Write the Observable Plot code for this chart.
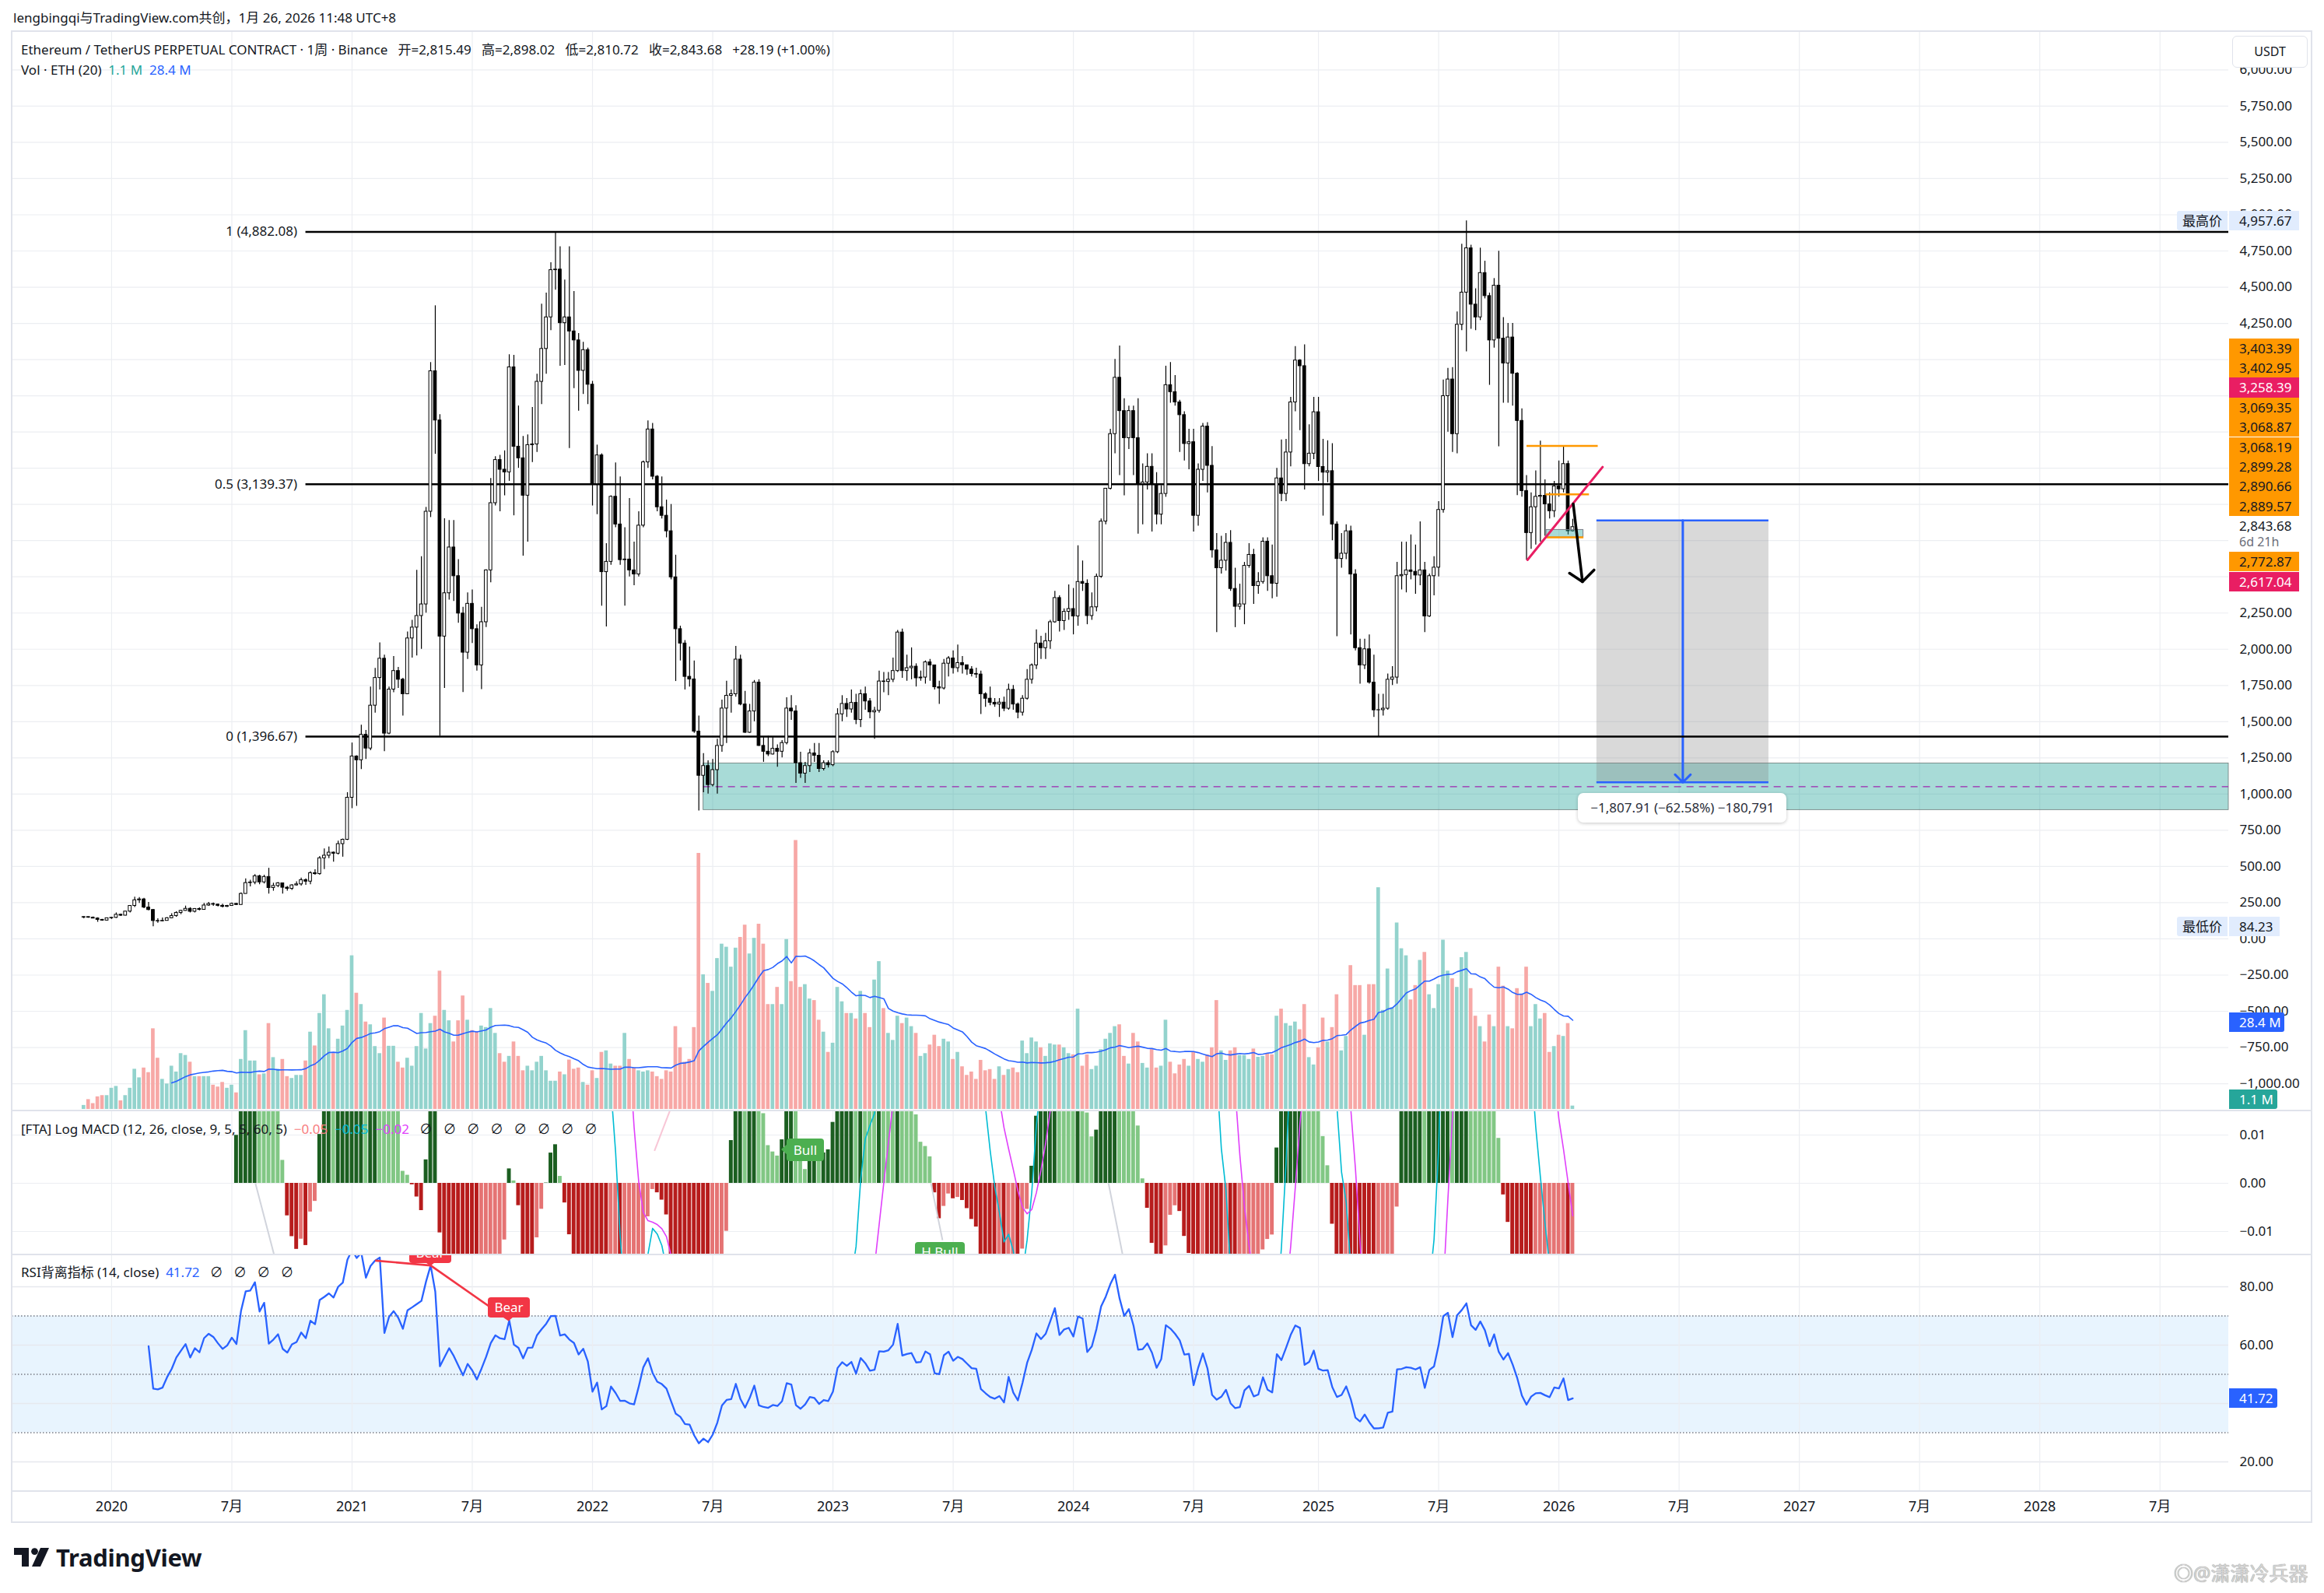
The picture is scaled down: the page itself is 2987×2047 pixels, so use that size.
<!DOCTYPE html>
<html>
<head>
<meta charset="utf-8">
<script src="https://cdn.jsdelivr.net/npm/d3@7"></script>
<script src="https://cdn.jsdelivr.net/npm/@observablehq/plot@0.6"></script>
<style>
  html, body { margin: 0; padding: 0; background: #fff; }
  #root { position: relative; width: 2987px; height: 2047px; overflow: hidden; background: #fff;
    font-family: "Noto Sans", "Noto Sans CJK SC", "DejaVu Sans", sans-serif; color: #131722; }
  .pane { position: absolute; left: 0; width: 2987px; overflow: hidden; }
  .pane svg { position: absolute; left: 0; top: 0; }
  .txt { position: absolute; white-space: nowrap; font-size: 17px; line-height: 20px; }
  .ax { position: absolute; left: 2865px; height: 25px; line-height: 25px; font-size: 17px;
        padding-left: 13px; box-sizing: border-box; white-space: nowrap; }
  .tag { position: absolute; color: #fff; font-size: 17px; text-align: center; border-radius: 4px; white-space: nowrap; }
</style>
</head>
<body>
<div id="root"></div>
<script>
// ====================== DATA ======================
const firstWeek = "2019-11-25";   // Monday of the first weekly bar (ETHUSDT perpetual)
const firstOpen = 148;

// weekly closes (index 0 = 2019-11-25)
const closes = [
  151, 147, 141, 132, 127, 143, 146, 167, 161, 189,            // 0
  228, 267, 273, 217, 200, 124, 122, 125, 143, 158,            // 10
  180, 194, 208, 188, 207, 201, 231, 241, 237, 229,            // 20
  222, 228, 242, 235, 311, 386, 390, 433, 391, 428,            // 30
  352, 366, 384, 354, 346, 370, 377, 406, 396, 454,            // 40
  448, 557, 575, 596, 589, 655, 685, 975, 1260, 1234,          // 50
  1410, 1315, 1611, 1802, 1935, 1418, 1722, 1850, 1790, 1690,  // 60
  2075, 2150, 2230, 2310, 2950, 3920, 3580, 2088, 2387, 2703,  // 70
  2505, 2247, 1977, 2314, 2139, 1889, 2187, 2545, 3009, 3307,  // 80
  3240, 3222, 3947, 3399, 3319, 3061, 3410, 3415, 3847, 4074,  // 90
  4292, 4618, 4622, 4252, 4292, 4195, 4133, 3923, 4066, 3827,  // 100
  3140, 3339, 2533, 2604, 3053, 2862, 2616, 2620, 2545, 2517,  // 110
  2854, 3291, 3518, 3192, 2981, 2922, 2815, 2497, 2139, 2040,  // 120
  1810, 1792, 1432, 1127, 1194, 1063, 1166, 1333, 1591, 1679,  // 130
  1690, 1929, 1619, 1424, 1571, 1770, 1333, 1293, 1274, 1313,  // 140
  1293, 1353, 1591, 1571, 1214, 1142, 1194, 1281, 1265, 1174,  // 150
  1214, 1200, 1290, 1551, 1623, 1585, 1630, 1512, 1690, 1640,  // 160
  1565, 1575, 1778, 1775, 1790, 1850, 2116, 1850, 1870, 1880,  // 170
  1800, 1805, 1910, 1889, 1738, 1730, 1901, 1937, 1870, 1905,  // 180
  1890, 1860, 1830, 1826, 1690, 1659, 1631, 1619, 1632, 1590,  // 190
  1720, 1619, 1563, 1659, 1790, 1889, 2040, 2008, 2056, 2187,  // 200
  2354, 2195, 2259, 2278, 2227, 2465, 2453, 2230, 2290, 2501,  // 210
  2882, 3109, 3486, 3875, 3645, 3458, 3645, 3458, 3140, 3152,  // 220
  3260, 3140, 2930, 3073, 3824, 3776, 3705, 3617, 3418, 3430,  // 230
  2922, 3240, 3538, 3267, 2683, 2560, 2612, 2735, 2417, 2294,  // 240
  2310, 2576, 2652, 2437, 2465, 2743, 2505, 2453, 3180, 3073,  // 250
  3359, 3705, 3994, 3955, 3279, 3351, 3637, 3259, 3220, 3230,  // 260
  2862, 2624, 2660, 2815, 2517, 2008, 1889, 2000, 1770, 1579,  // 270
  1580, 1590, 1790, 1805, 2505, 2513, 2545, 2535, 2510, 2545,  // 280
  2227, 2505, 2564, 2962, 3748, 3863, 3486, 4241, 4463, 4769,  // 290
  4380, 4292, 4598, 4439, 4133, 4511, 4145, 3974, 4153, 3903,  // 300
  3577, 3093, 2803, 2981, 3053, 3060, 3001, 2954, 3125, 3105,  // 310
  3279, 2815.49, 2843.68                                       // 320
];
const highs = [
  156, 152, 152, 146, 135, 145, 150, 180, 172, 190,
  229, 288, 286, 280, 253, 202, 140, 145, 147, 175,
  188, 198, 227, 216, 210, 215, 245, 253, 249, 240,
  240, 232, 248, 245, 318, 415, 405, 445, 440, 440,
  488, 385, 390, 385, 362, 375, 395, 420, 415, 465,
  478, 570, 622, 635, 600, 675, 690, 1010, 1353, 1265,
  1476, 1440, 1740, 1869, 2045, 1960, 1740, 1950, 1875, 1800,
  2120, 2200, 2545, 2640, 2980, 3980, 4372, 3620, 2902, 2890,
  2890, 2620, 2290, 2390, 2410, 2170, 2290, 2550, 3180, 3330,
  3340, 3370, 4034, 4030, 3680, 3470, 3480, 3670, 3900, 4383,
  4460, 4670, 4876, 4780, 4550, 4780, 4470, 4180, 4120, 4080,
  3850, 3410, 3350, 2730, 3060, 3287, 3190, 2840, 3041, 2740,
  2950, 3300, 3577, 3560, 3200, 3190, 3030, 3000, 2650, 2160,
  2060, 2016, 1920, 1540, 1280, 1230, 1240, 1380, 1650, 1780,
  1720, 2020, 1960, 1710, 1620, 1785, 1790, 1390, 1400, 1390,
  1340, 1370, 1665, 1680, 1610, 1290, 1220, 1310, 1350, 1350,
  1230, 1230, 1300, 1590, 1680, 1660, 1720, 1690, 1720, 1740,
  1660, 1600, 1850, 1840, 1840, 1940, 2130, 2140, 1960, 2010,
  1900, 1850, 1920, 1930, 1890, 1780, 1930, 1950, 1990, 2030,
  1950, 1890, 1880, 1870, 1850, 1700, 1740, 1660, 1660, 1670,
  1760, 1750, 1630, 1680, 1860, 1900, 2135, 2090, 2110, 2200,
  2400, 2370, 2280, 2445, 2420, 2715, 2610, 2480, 2390, 2520,
  2900, 3110, 3520, 4002, 4094, 3730, 3680, 3680, 3730, 3280,
  3350, 3350, 3220, 3130, 3955, 3980, 3890, 3720, 3640, 3520,
  3520, 3280, 3560, 3565, 3400, 2800, 2780, 2800, 2820, 2560,
  2450, 2600, 2730, 2690, 2530, 2770, 2770, 2720, 3250, 3445,
  3450, 3740, 4090, 4000, 4102, 3550, 3740, 3740, 3450, 3440,
  3420, 2880, 2800, 2860, 2850, 2550, 2070, 2070, 2100, 1960,
  1690, 1690, 1830, 1880, 2600, 2740, 2740, 2790, 2720, 2880,
  2600, 2520, 2640, 3020, 3860, 3940, 3945, 4330, 4797, 4957.67,
  4790, 4490, 4770, 4680, 4460, 4560, 4749, 4290, 4250, 4250,
  3910, 3660, 3200, 3080, 3232, 3438, 3170, 3080, 3160, 3300,
  3398, 3300, 2898.02
];
const lows = [
  140, 143, 139, 116, 123, 125, 135, 142, 155, 160,
  180, 218, 245, 210, 195, 84.23, 108, 118, 124, 140,
  150, 168, 192, 180, 180, 195, 198, 225, 225, 222,
  215, 218, 225, 232, 234, 310, 360, 375, 375, 380,
  310, 330, 355, 310, 330, 335, 365, 365, 370, 375,
  440, 440, 480, 555, 530, 580, 565, 680, 900, 916,
  1170, 1240, 1300, 1560, 1720, 1293, 1410, 1700, 1730, 1540,
  1690, 1940, 1955, 2000, 2250, 2910, 3347, 1400, 1730, 2340,
  2330, 2180, 1702, 1930, 2040, 1850, 1722, 2150, 2460, 2990,
  2950, 3060, 3160, 2922, 3250, 2644, 2740, 3290, 3360, 3690,
  3900, 4200, 4480, 3955, 3960, 3387, 3800, 3645, 3760, 3690,
  2990, 2930, 2298, 2155, 2580, 2840, 2580, 2298, 2500, 2440,
  2500, 2840, 3250, 3170, 2950, 2900, 2770, 2480, 1778, 1920,
  1720, 1740, 1420, 884, 1010, 1000, 1050, 1000, 1290, 1350,
  1560, 1670, 1610, 1420, 1420, 1500, 1330, 1220, 1260, 1270,
  1186, 1250, 1340, 1510, 1075, 1110, 1075, 1150, 1220, 1150,
  1160, 1180, 1190, 1280, 1500, 1530, 1560, 1480, 1460, 1580,
  1520, 1380, 1560, 1700, 1680, 1770, 1840, 1800, 1780, 1790,
  1740, 1780, 1760, 1780, 1720, 1620, 1720, 1810, 1830, 1840,
  1830, 1820, 1810, 1800, 1550, 1600, 1610, 1600, 1530, 1570,
  1580, 1580, 1520, 1540, 1650, 1760, 1860, 1930, 1930, 2000,
  2180, 2120, 2130, 2200, 2100, 2160, 2400, 2170, 2200, 2260,
  2490, 2860, 3100, 3350, 3200, 3060, 3380, 3200, 2795, 2860,
  3100, 2810, 2860, 2860, 3050, 3700, 3680, 3360, 3300, 3240,
  2810, 2850, 3160, 3080, 2630, 2116, 2520, 2540, 2400, 2150,
  2270, 2170, 2560, 2310, 2380, 2450, 2400, 2350, 2360, 3020,
  3020, 3260, 3640, 3510, 3100, 3260, 3310, 3160, 2920, 3150,
  2750, 2088, 2560, 2620, 2100, 1990, 1760, 1860, 1760, 1530,
  1393, 1540, 1580, 1750, 1760, 2410, 2390, 2480, 2380, 2440,
  2116, 2220, 2370, 2500, 2940, 3500, 3360, 3350, 4200, 4054,
  4210, 4200, 4270, 4420, 3823, 4080, 3398, 3700, 3700, 3680,
  3061, 3050, 2616, 2690, 2720, 2740, 2780, 2900, 2910, 3050,
  3080, 2790, 2810.72
];
// weekly volume, millions of ETH
const volumes = [
  1.3, 3.2, 1.9, 4.1, 4.5, 4.5, 6.9, 7.5, 2.8, 4.5,
  6.9, 13.1, 10.3, 13.5, 12.0, 26.3, 16.7, 9.8, 8.3, 14.1,
  12.2, 18.2, 17.6, 15.4, 10.7, 10.7, 10.7, 10.7, 7.9, 7.3,
  8.8, 6.9, 7.9, 5.4, 16.3, 25.7, 15.8, 15.8, 11.3, 11.6,
  28.0, 16.9, 13.1, 16.3, 10.7, 10.1, 11.1, 11.1, 15.8, 25.2,
  20.7, 31.3, 37.4, 26.3, 18.2, 22.9, 27.2, 32.3, 50.1, 37.9,
  34.2, 28.5, 27.6, 20.5, 18.2, 29.8, 20.6, 20.6, 15.4, 13.5,
  16.7, 14.1, 20.5, 31.3, 19.7, 28.0, 30.4, 45.1, 32.3, 28.9,
  22.0, 28.9, 37.0, 29.1, 25.7, 25.3, 27.2, 26.7, 32.9, 24.8,
  18.2, 15.4, 17.3, 22.0, 17.3, 12.6, 14.1, 12.6, 15.4, 17.3,
  12.6, 9.2, 9.2, 12.2, 11.3, 16.1, 13.1, 13.5, 8.8, 7.9,
  12.6, 10.1, 18.6, 19.1, 14.8, 14.1, 14.1, 24.8, 16.3, 13.5,
  12.6, 12.2, 12.6, 12.2, 10.7, 9.8, 12.6, 12.2, 27.0, 20.1,
  15.4, 16.3, 26.7, 83.5, 43.9, 41.1, 38.5, 49.2, 53.9, 52.9,
  46.4, 52.6, 56.1, 60.1, 50.7, 55.8, 60.4, 53.9, 34.2, 34.2,
  39.8, 34.2, 55.4, 41.7, 87.7, 39.8, 40.7, 36.0, 35.5, 29.1,
  25.2, 18.6, 21.6, 39.8, 35.1, 31.3, 31.3, 29.5, 38.5, 31.3,
  26.7, 42.2, 48.2, 32.9, 24.8, 22.5, 30.4, 28.0, 29.8, 27.0,
  24.8, 17.3, 18.2, 21.0, 24.2, 20.5, 22.9, 22.0, 16.3, 18.6,
  13.9, 11.1, 12.2, 9.8, 16.0, 12.6, 13.0, 9.8, 13.9, 11.1,
  13.0, 13.5, 12.0, 22.3, 18.2, 23.3, 22.0, 20.1, 17.3, 21.4,
  21.0, 21.0, 20.1, 18.2, 17.8, 32.7, 14.1, 17.8, 13.0, 14.1,
  19.5, 22.9, 24.8, 27.0, 27.6, 17.3, 14.8, 24.8, 22.0, 15.0,
  13.5, 19.5, 13.5, 14.1, 29.1, 15.4, 11.6, 14.5, 16.3, 14.1,
  18.8, 16.3, 15.4, 17.8, 20.1, 35.5, 19.1, 16.0, 19.1, 20.1,
  17.6, 17.6, 16.3, 19.7, 17.0, 17.3, 18.2, 17.8, 30.4, 32.7,
  28.0, 27.2, 28.5, 26.0, 34.2, 16.9, 14.5, 20.1, 29.8, 22.0,
  26.7, 37.4, 19.1, 23.8, 46.9, 40.4, 40.4, 24.2, 40.7, 40.7,
  72.3, 32.3, 45.8, 33.2, 60.8, 52.4, 50.1, 35.7, 40.4, 48.6,
  51.2, 37.4, 32.9, 40.7, 55.2, 45.1, 42.6, 39.8, 49.5, 51.2,
  39.4, 30.4, 27.0, 22.0, 30.8, 27.0, 46.4, 40.2, 27.0, 26.3,
  39.4, 37.5, 46.4, 27.0, 34.2, 29.5, 31.3, 18.6, 20.5, 24.2,
  23.8, 28.0, 1.1
];

// Drawings (anchored in week index / price)
const fibLevels = [
  {ratio: "1", value: 4882.08},
  {ratio: "0.5", value: 3139.37},
  {ratio: "0", value: 1396.67}
];
const fibStartWeek = 48;
const zone = {startWeek: 134, top: 1212, bottom: 890};
const measure = {startWeek: 327.2, endWeek: 364.4, top: 2888.96, bottom: 1081.05,
                 text: "−1,807.91 (−62.58%) −180,791"};
const orangeLines = [
  {w1: 312.0, w2: 327.4, p: 3403.39},
  {w1: 316.1, w2: 325.5, p: 3069.35},
  {w1: 316.3, w2: 324.3, p: 2772.87}
];
const smallBox = {w1: 316.3, w2: 324.3, p1: 2773, p2: 2824};
const trendLine = [{w: 312.2, p: 2617.04}, {w: 328.45, p: 3258.39}];
const handArrow = [
  {g: 0, w: 322.1, p: 3004}, {g: 0, w: 324.1, p: 2466},
  {g: 1, w: 321.3, p: 2525}, {g: 1, w: 324.1, p: 2466}, {g: 1, w: 326.6, p: 2547}
];
const priceTicks = d3.range(-1000, 6001, 250);
const stackLabels = [
  {text: "3,403.39", kind: "o"}, {text: "3,402.95", kind: "o"}, {text: "3,258.39", kind: "p"},
  {text: "3,069.35", kind: "o"}, {text: "3,068.87", kind: "o"}, {text: "3,068.19", kind: "o"},
  {text: "2,899.28", kind: "o"}, {text: "2,890.66", kind: "o"}, {text: "2,889.57", kind: "o"},
  {text: "2,843.68", kind: "c", sub: "6d 21h"},
  {text: "2,772.87", kind: "o"}, {text: "2,617.04", kind: "p"}
];
const highLabel = {name: "最高价", value: 4957.67};
const lowLabel = {name: "最低价", value: 84.23};
const volMALabel = 28.4, volLastLabel = 1.1, rsiLastLabel = 41.72;
const rsiBear = [[63, 75], [75, 92]];
const macdLabels = [
  {text: "Bull", w: 156.1, v: 0.0069, w0: 48, h0: 29, pointer: true},
  {text: "H Bull", w: 185.2, v: -0.01435, w0: 64, h0: 26, pointer: false}
];
// faint divergence guide lines in the MACD pane (week index, value)
const macdDivLines = [
  {w1: 37.1, v1: 0, w2: 41.6, v2: -0.0165, color: "#d1d4dc"},
  {w1: 126.8, v1: 0.0152, w2: 123.4, v2: 0.0067, color: "#f8c6d6"},
  {w1: 183.2, v1: 0, w2: 185.7, v2: -0.0118, color: "#d1d4dc"},
  {w1: 221.6, v1: 0, w2: 225.0, v2: -0.0165, color: "#d1d4dc"}
];

// ====================== LAYOUT ======================
const W = 2987;
const XL = 15, XR = 2864;
const PRICE_TOP = 41, PRICE_H = 1384;
const MACD_TOP = 1427, MACD_H = 184;
const RSI_TOP = 1612, RSI_H = 303;
const AXIS_TOP = 1915;
const PRICE_DOMAIN = [-1177, 6260];
const STACK_TOP = 434.5;
const DAY = 864e5;
const t0 = Date.parse(firstWeek + "T00:00:00Z");
const weekDate = w => new Date(t0 + w * 7 * DAY);
const xDomain = [new Date(t0 - 108.7 * DAY), new Date(t0 + 3247 * DAY)];
const FONT = "'Noto Sans', 'Noto Sans CJK SC', 'DejaVu Sans', sans-serif";
const fmt2 = d3.format(",.2f");

const bars = closes.map((c, i) => {
  const open = i === 0 ? firstOpen : closes[i - 1];
  return {i, date: weekDate(i), open, high: highs[i], low: lows[i], close: c, vol: volumes[i], up: c >= open};
});
const half = (d, days) => new Date(+d + days * DAY);

// indicators
function ema(values, n) {
  const out = new Array(values.length).fill(NaN);
  const a = 2 / (n + 1);
  const start = values.findIndex(v => !isNaN(v));
  if (start < 0 || start + n - 1 >= values.length) return out;
  let s = d3.mean(values.slice(start, start + n));
  out[start + n - 1] = s;
  for (let i = start + n; i < values.length; i++) { s = a * values[i] + (1 - a) * s; out[i] = s; }
  return out;
}
const logc = closes.map(Math.log);
const e12 = ema(logc, 12), e26 = ema(logc, 26);
const macd = logc.map((_, i) => e12[i] - e26[i]);
const signal = ema(macd, 9);
const macdData = [];
bars.forEach((b, i) => {
  if (isNaN(signal[i])) return;
  const h = macd[i] - signal[i];
  const prev = isNaN(signal[i - 1]) ? h : macd[i - 1] - signal[i - 1];
  const color = h >= 0 ? (h >= prev ? "#1b5e20" : "#81c784") : (h <= prev ? "#b71c1c" : "#e57373");
  macdData.push({date: b.date, hist: h, macd: macd[i], signal: signal[i], color});
});
function rsiCalc(cl, n) {
  const out = new Array(cl.length).fill(NaN);
  let g = 0, l = 0;
  for (let i = 1; i <= n; i++) { const ch = cl[i] - cl[i - 1]; if (ch > 0) g += ch; else l -= ch; }
  g /= n; l /= n;
  out[n] = l === 0 ? 100 : 100 - 100 / (1 + g / l);
  for (let i = n + 1; i < cl.length; i++) {
    const ch = cl[i] - cl[i - 1];
    g = (g * (n - 1) + Math.max(ch, 0)) / n;
    l = (l * (n - 1) + Math.max(-ch, 0)) / n;
    out[i] = l === 0 ? 100 : 100 - 100 / (1 + g / l);
  }
  return out;
}
const rsi = rsiCalc(closes, 14);
const rsiData = bars.map((b, i) => ({date: b.date, rsi: rsi[i]})).filter(d => !isNaN(d.rsi));
const bearSegs = rsiBear.map(([a, b]) => ({x1: weekDate(a), y1: rsi[a], x2: weekDate(b), y2: rsi[b]}));

const tickDates = [];
for (let y = 2020; y <= 2028; y++) for (const m of [0, 6]) tickDates.push(d3.utcMonday.ceil(new Date(Date.UTC(y, m, 1))));
const tickFmt = d => d.getUTCMonth() === 0 ? String(d.getUTCFullYear()) : "7月";

// price-axis labels fully hidden under the stacked drawing labels are not drawn
const stackHeight = d3.sum(stackLabels, L => L.sub ? 46 : 25.4);
const yPix = d3.scaleLinear(PRICE_DOMAIN, [PRICE_H, 0]);
const axisTicks = priceTicks.filter(v => {
  const y = PRICE_TOP + yPix(v);
  return y < STACK_TOP - 6 || y > STACK_TOP + stackHeight + 6;
});

const common = {
  width: W, marginLeft: XL, marginRight: W - XR, marginTop: 0, marginBottom: 0,
  x: {type: "utc", domain: xDomain, axis: null},
  style: {fontFamily: FONT, fontSize: "17px", color: "#131722", background: "transparent", overflow: "visible"}
};
const GRID = "#eceef2";

// ---------- price pane ----------
const pricePlot = Plot.plot({
  ...common, height: PRICE_H,
  y: {domain: PRICE_DOMAIN, axis: null},
  marks: [
    Plot.ruleY(priceTicks, {stroke: GRID, strokeWidth: 1.2}),
    Plot.ruleX(tickDates, {stroke: GRID, strokeWidth: 1.2}),
    Plot.axisY({anchor: "right", ticks: axisTicks, tickFormat: fmt2, tickSize: 0, tickPadding: 14, fontSize: 17, label: null}),
    // support zone
    Plot.rect([zone], {x1: d => weekDate(d.startWeek), x2: () => xDomain[1], y1: "bottom", y2: "top",
      fill: "#26a69a", fillOpacity: 0.4, stroke: "#6b7a78", strokeWidth: 0.8}),
    Plot.ruleY([zone], {y: d => (d.top + d.bottom) / 2, x1: d => weekDate(d.startWeek), x2: () => xDomain[1],
      stroke: "#9c27b0", strokeWidth: 1.3, strokeDasharray: "9,7"}),
    // measure box
    Plot.rect([measure], {x1: d => weekDate(d.startWeek), x2: d => weekDate(d.endWeek), y1: "bottom", y2: "top",
      fill: "#808080", fillOpacity: 0.3}),
    Plot.ruleY([measure.top, measure.bottom], {x1: () => weekDate(measure.startWeek), x2: () => weekDate(measure.endWeek),
      stroke: "#2962ff", strokeWidth: 2.5}),
    Plot.arrow([measure], {x1: d => weekDate((d.startWeek + d.endWeek) / 2), x2: d => weekDate((d.startWeek + d.endWeek) / 2),
      y1: "top", y2: "bottom", stroke: "#2962ff", strokeWidth: 3, headAngle: 90, headLength: 7}),
    // fib levels
    Plot.ruleY(fibLevels, {y: "value", x1: () => weekDate(fibStartWeek), x2: () => xDomain[1], stroke: "#000", strokeWidth: 2.6}),
    Plot.text(fibLevels, {x: () => weekDate(fibStartWeek), y: "value", text: d => `${d.ratio} (${fmt2(d.value)})`,
      textAnchor: "end", dx: -11, fontSize: 17, fill: "#131722"}),
    // candles
    Plot.ruleX(bars, {x: "date", y1: "low", y2: "high", stroke: "#000", strokeWidth: 1.2}),
    Plot.rect(bars, {x1: d => half(d.date, -2.2), x2: d => half(d.date, 2.2), y1: "open", y2: "close",
      fill: d => d.up ? "#ffffff" : "#000000", stroke: "#000", strokeWidth: 1}),
    // drawings
    Plot.rect([smallBox], {x1: d => weekDate(d.w1), x2: d => weekDate(d.w2), y1: "p1", y2: "p2",
      fill: "#26a69a", fillOpacity: 0.4, stroke: "#787b86", strokeWidth: 1}),
    Plot.link(orangeLines, {x1: d => weekDate(d.w1), x2: d => weekDate(d.w2), y1: "p", y2: "p", stroke: "#ff9800", strokeWidth: 2.5}),
    Plot.line(trendLine, {x: d => weekDate(d.w), y: "p", stroke: "#e91e63", strokeWidth: 3}),
    Plot.line(handArrow, {x: d => weekDate(d.w), y: "p", z: "g", stroke: "#000", strokeWidth: 3.5, strokeLinecap: "round", strokeLinejoin: "round"})
  ]
});

// ---------- volume overlay ----------
const volPlot = Plot.plot({
  ...common, height: PRICE_H,
  y: {domain: [0, PRICE_H / 3.94], axis: null},
  marks: [
    Plot.rect(bars, {x1: d => half(d.date, -2.75), x2: d => half(d.date, 2.75), y1: () => 0, y2: "vol",
      fill: d => d.up ? "#93d3cd" : "#f7a8a6"}),
    Plot.lineY(bars, Plot.windowY({k: 20, anchor: "end", strict: true, reduce: "mean"},
      {x: "date", y: "vol", stroke: "#2962ff", strokeWidth: 1.6}))
  ]
});

// ---------- MACD pane ----------
const MACD_DOMAIN = [-0.014677, 0.015];
const macdPlot = Plot.plot({
  ...common, height: MACD_H,
  y: {domain: MACD_DOMAIN, axis: null},
  marks: [
    Plot.ruleY([0.01, 0, -0.01], {stroke: GRID, strokeWidth: 1.2}),
    Plot.ruleX(tickDates, {stroke: GRID, strokeWidth: 1.2}),
    Plot.rect(macdData, {x1: d => half(d.date, -2.9), x2: d => half(d.date, 2.9), y1: () => 0, y2: "hist", fill: "color", clip: true}),
    Plot.link(macdDivLines, {x1: d => weekDate(d.w1), x2: d => weekDate(d.w2), y1: "v1", y2: "v2", stroke: "color", strokeWidth: 2, clip: true}),
    Plot.line(macdData, {x: "date", y: "macd", stroke: "#00bcd4", strokeWidth: 1.6, clip: true}),
    Plot.line(macdData, {x: "date", y: "signal", stroke: "#e040fb", strokeWidth: 1.6, clip: true}),
    Plot.axisY({anchor: "right", ticks: [0.01, 0, -0.01], tickFormat: fmt2, tickSize: 0, tickPadding: 14, fontSize: 17, label: null})
  ]
});

// ---------- RSI pane ----------
const RSI_DOMAIN = [10.13, 90.93];
const rsiPlot = Plot.plot({
  ...common, height: RSI_H,
  y: {domain: RSI_DOMAIN, axis: null},
  marks: [
    Plot.rect([0], {y1: () => 30, y2: () => 70, fill: "#2196f3", fillOpacity: 0.1}),
    Plot.ruleY([80, 60, 40, 20], {stroke: "#e6e8ee", strokeWidth: 1.4}),
    Plot.ruleX(tickDates, {stroke: GRID, strokeWidth: 1.2}),
    Plot.ruleY([70, 50, 30], {stroke: "#787b86", strokeWidth: 1.3, strokeDasharray: "1.5,2.5"}),
    Plot.line(rsiData, {x: "date", y: "rsi", stroke: "#2962ff", strokeWidth: 2.3, clip: true}),
    Plot.link(bearSegs, {x1: "x1", y1: "y1", x2: "x2", y2: "y2", stroke: "#f23645", strokeWidth: 2.6, clip: true}),
    Plot.axisY({anchor: "right", ticks: [80, 60, 20], tickFormat: d3.format(".2f"), tickSize: 0, tickPadding: 14, fontSize: 17, label: null})
  ]
});

// ---------- time axis ----------
const axisPlot = Plot.plot({
  ...common, height: 44, marginTop: 1, marginBottom: 43,
  marks: [
    Plot.axisX({ticks: tickDates, tickFormat: tickFmt, tickSize: 0, tickPadding: 14, fontSize: 18, label: null})
  ]
});

// ====================== ASSEMBLY ======================
const root = document.getElementById("root");
function div(parent, style, html, cls) {
  const d = document.createElement("div");
  if (cls) d.className = cls;
  Object.assign(d.style, style);
  if (html != null) d.innerHTML = html;
  parent.appendChild(d);
  return d;
}
function pane(plot, top, height) {
  const w = div(root, {top: top + "px", height: height + "px"}, null, "pane");
  w.appendChild(plot);
  return w;
}
const priceWrap = pane(pricePlot, PRICE_TOP, PRICE_H);
priceWrap.appendChild(volPlot);
const macdWrap = pane(macdPlot, MACD_TOP, MACD_H);
const rsiWrap = pane(rsiPlot, RSI_TOP, RSI_H);
const axisWrap = pane(axisPlot, AXIS_TOP - 1, 44);

const sx = v => pricePlot.scale("x").apply(v);
const syP = v => pricePlot.scale("y").apply(v);
const syV = v => volPlot.scale("y").apply(v);
const syM = v => macdPlot.scale("y").apply(v);
const syR = v => rsiPlot.scale("y").apply(v);

// frame & separators
const FR = "#e0e3eb";
div(root, {position: "absolute", left: "14px", top: "39px", width: "2958px", height: "1918px",
  border: `2px solid ${FR}`, boxSizing: "border-box", pointerEvents: "none"});
for (const y of [1425.5, 1610.5, 1914.5]) div(root, {position: "absolute", left: "15px", top: y + "px", width: "2956px", height: "2px", background: FR});

// header
div(root, {left: "17px", top: "13px"}, "lengbingqi与TradingView.com共创，1月 26, 2026 11:48 UTC+8", "txt");
const last = bars[bars.length - 1];
const chg = last.close - last.open;
div(root, {left: "27px", top: "54px"},
  `Ethereum / TetherUS PERPETUAL CONTRACT · 1周 · Binance&nbsp;&nbsp; 开=${fmt2(last.open)}&nbsp;&nbsp; 高=${fmt2(last.high)}&nbsp;&nbsp; 低=${fmt2(last.low)}&nbsp;&nbsp; 收=${fmt2(last.close)}&nbsp;&nbsp; ${chg >= 0 ? "+" : ""}${fmt2(chg)} (${chg >= 0 ? "+" : ""}${(chg / last.open * 100).toFixed(2)}%)`, "txt");
div(root, {left: "27px", top: "80px"},
  `Vol · ETH (20)&nbsp; <span style="color:#26a69a">${volLastLabel} M</span>&nbsp; <span style="color:#2962ff">${volMALabel} M</span>`, "txt");
div(root, {left: "27px", top: "1441px"},
  `[FTA] Log MACD (12, 26, close, 9, 5, 5, 60, 5)&nbsp; <span style="color:#f77c80">−0.05</span>&nbsp; <span style="color:#00bcd4">−0.05</span>&nbsp; <span style="color:#e040fb">−0.02</span>&nbsp;&nbsp; ∅&nbsp;&nbsp; ∅&nbsp;&nbsp; ∅&nbsp;&nbsp; ∅&nbsp;&nbsp; ∅&nbsp;&nbsp; ∅&nbsp;&nbsp; ∅&nbsp;&nbsp; ∅`, "txt");
div(root, {left: "27px", top: "1625px"},
  `RSI背离指标 (14, close)&nbsp; <span style="color:#2962ff">${rsiLastLabel}</span>&nbsp;&nbsp; ∅&nbsp;&nbsp; ∅&nbsp;&nbsp; ∅&nbsp;&nbsp; ∅`, "txt");

// USDT box
div(root, {position: "absolute", left: "2869px", top: "46px", width: "97px", height: "41px", background: "#fff",
  border: `1.5px solid ${FR}`, borderRadius: "6px", boxSizing: "border-box", textAlign: "center", lineHeight: "38px", fontSize: "16px"}, "USDT");

// stacked right-axis labels
let sy = STACK_TOP;
for (const L of stackLabels) {
  const h = L.sub ? 46 : 25.4;
  const bg = L.kind === "o" ? "#ff9800" : L.kind === "p" ? "#e91e63" : "#ffffff";
  const fg = L.kind === "p" ? "#ffffff" : "#131722";
  const inner = L.sub ? `${L.text}<div style="line-height:20px;color:#6a6d78;font-size:16px;margin-top:-2px">${L.sub}</div>` : L.text;
  div(root, {top: sy + "px", height: h + "px", width: "90px", background: bg, color: fg}, inner, "ax");
  sy += h;
}
// high / low labels
for (const L of [highLabel, lowLabel]) {
  const y = PRICE_TOP + syP(L.value) - 12.5;
  div(root, {position: "absolute", left: "2798px", top: y + "px", width: "65px", height: "25px", background: "#e1ecfd",
    lineHeight: "25px", fontSize: "17px", textAlign: "center", borderRadius: "3px 0 0 3px"}, L.name);
  div(root, {top: y + "px", width: (L === highLabel ? 90 : 65) + "px", background: "#e1ecfd"}, fmt2(L.value), "ax");
}
// volume / rsi labels
{
  const y1 = PRICE_TOP + syV(volMALabel) - 12.5;
  div(root, {top: y1 + "px", width: "71px", background: "#2962ff", color: "#fff", borderRadius: "0 3px 3px 0"}, `${volMALabel} M`, "ax");
  const y2 = Math.min(PRICE_TOP + syV(volLastLabel) - 12.5, PRICE_TOP + PRICE_H - 25.5);
  div(root, {top: y2 + "px", width: "62px", background: "#26a69a", color: "#fff", borderRadius: "0 3px 3px 0"}, `${volLastLabel} M`, "ax");
  const y3 = RSI_TOP + syR(rsiLastLabel) - 12.5;
  div(root, {top: y3 + "px", width: "62px", background: "#2962ff", color: "#fff", borderRadius: "0 3px 3px 0"}, String(rsiLastLabel), "ax");
}
// measure label
{
  const cx = sx(weekDate((measure.startWeek + measure.endWeek) / 2));
  const top = PRICE_TOP + syP(measure.bottom) + 14;
  div(root, {position: "absolute", left: (cx - 134) + "px", top: top + "px", width: "268px", height: "38px", background: "#fff",
    borderRadius: "7px", boxShadow: "0 1px 4px rgba(0,0,0,0.22)", textAlign: "center", lineHeight: "38px", fontSize: "17px", color: "#2a2e39"},
    measure.text);
}
// RSI bear labels
for (const s of bearSegs) {
  const cx = sx(s.x2), cy = syR(s.y2);
  div(rsiWrap, {left: (cx - 27) + "px", top: (cy - 29) + "px", width: "54px", height: "26px", lineHeight: "26px", background: "#f23645"}, "Bear", "tag");
  div(rsiWrap, {position: "absolute", left: (cx - 6) + "px", top: (cy - 4) + "px", width: 0, height: 0,
    borderLeft: "6px solid transparent", borderRight: "6px solid transparent", borderTop: "5px solid #f23645"});
}
// MACD labels
for (const L of macdLabels) {
  const cx = sx(weekDate(L.w)), cy = syM(L.v);
  div(macdWrap, {left: (cx - L.w0 / 2) + "px", top: (cy - L.h0 / 2) + "px", width: L.w0 + "px", height: L.h0 + "px",
    lineHeight: L.h0 + "px", background: "#4caf50"}, L.text, "tag");
  if (L.pointer) div(macdWrap, {position: "absolute", left: (cx - L.w0 / 2 - 7) + "px", top: (cy - 7) + "px", width: 0, height: 0,
    borderTop: "7px solid transparent", borderBottom: "7px solid transparent", borderRight: "8px solid #4caf50"});
}

// footer: logo + watermark
div(root, {position: "absolute", left: "18px", top: "1989px"},
  `<svg width="48" height="24" viewBox="0 0 48 24"><path d="M0 0h19v24h-9V9H0z" fill="#131722"/><circle cx="26.5" cy="4.6" r="4.4" fill="#131722"/><path d="M34 0h11L34 24H23z" fill="#131722"/></svg>`);
div(root, {left: "72px", top: "1982px", fontSize: "31px", lineHeight: "38px", fontWeight: "700", letterSpacing: "-0.3px"}, "TradingView", "txt");
div(root, {left: "2794px", top: "2006px", fontSize: "25px", lineHeight: "30px", color: "#d4d4d4",
  textShadow: "0 0 1px #9a9a9a, 0 0 1px #9a9a9a"}, "◎@潇潇冷兵器", "txt");
</script>
</body>
</html>
